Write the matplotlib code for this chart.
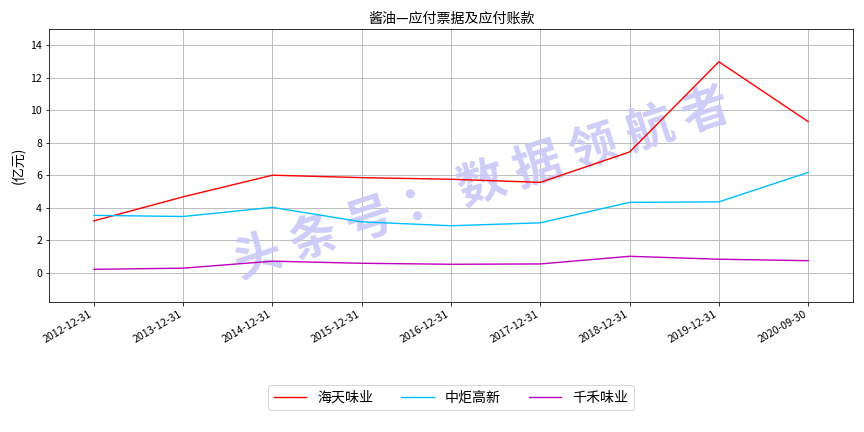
import numpy as np
import matplotlib
matplotlib.use('Agg')
import matplotlib.pyplot as plt

plt.rcParams['font.family'] = ['Noto Sans CJK SC', 'DejaVu Sans']
plt.rcParams['axes.unicode_minus'] = False

# data
dates = ['2012-12-31', '2013-12-31', '2014-12-31', '2015-12-31', '2016-12-31',
         '2017-12-31', '2018-12-31', '2019-12-31', '2020-09-30']
haitian = [3.19, 4.67, 6.00, 5.85, 5.75, 5.56, 7.43, 12.98, 9.30]
zhongju = [3.53, 3.46, 4.02, 3.13, 2.89, 3.07, 4.33, 4.36, 6.17]
qianhe = [0.21, 0.28, 0.71, 0.58, 0.52, 0.54, 1.01, 0.83, 0.74]

fig = plt.figure(figsize=(12, 6), dpi=72)
ax = fig.add_subplot(111)
fig.subplots_adjust(left=0.057, right=0.987, top=0.933, bottom=0.301)

x = np.arange(len(dates))
ax.plot(x, haitian, color='red', label='海天味业', lw=1.4)
ax.plot(x, zhongju, color='deepskyblue', label='中炬高新', lw=1.4)
ax.plot(x, qianhe, color='m', label='千禾味业', lw=1.4)

ax.set_xlim(-0.5, 8.5)
ax.set_ylim(-1.8, 15)
ax.set_yticks(np.arange(0, 15, 2))
ax.set_xticks(x)
ax.set_xticklabels(dates, rotation=30, ha='right', fontsize=10.5)
ax.tick_params(axis='y', labelsize=10.5)
ax.grid(True, color='#b0b0b0')
ax.set_axisbelow(True)

ax.set_title('酱油—应付票据及应付账款', fontsize=14)
ax.set_ylabel('(亿元)', fontsize=14)

ax.legend(loc='center', bbox_to_anchor=(0.5, -0.35), ncol=3, fontsize=14,
          handlelength=2.3, columnspacing=2.0)

# watermark, behind the lines
ax.text(0.558, 0.575, '头 条 号 ： 数 据 领 航 者', transform=fig.transFigure,
        fontsize=48, color='#c8c8f8', rotation=18, ha='center', va='center',
        fontweight='bold', alpha=0.9, zorder=1.5)

fig.savefig('out.png', dpi=72)
